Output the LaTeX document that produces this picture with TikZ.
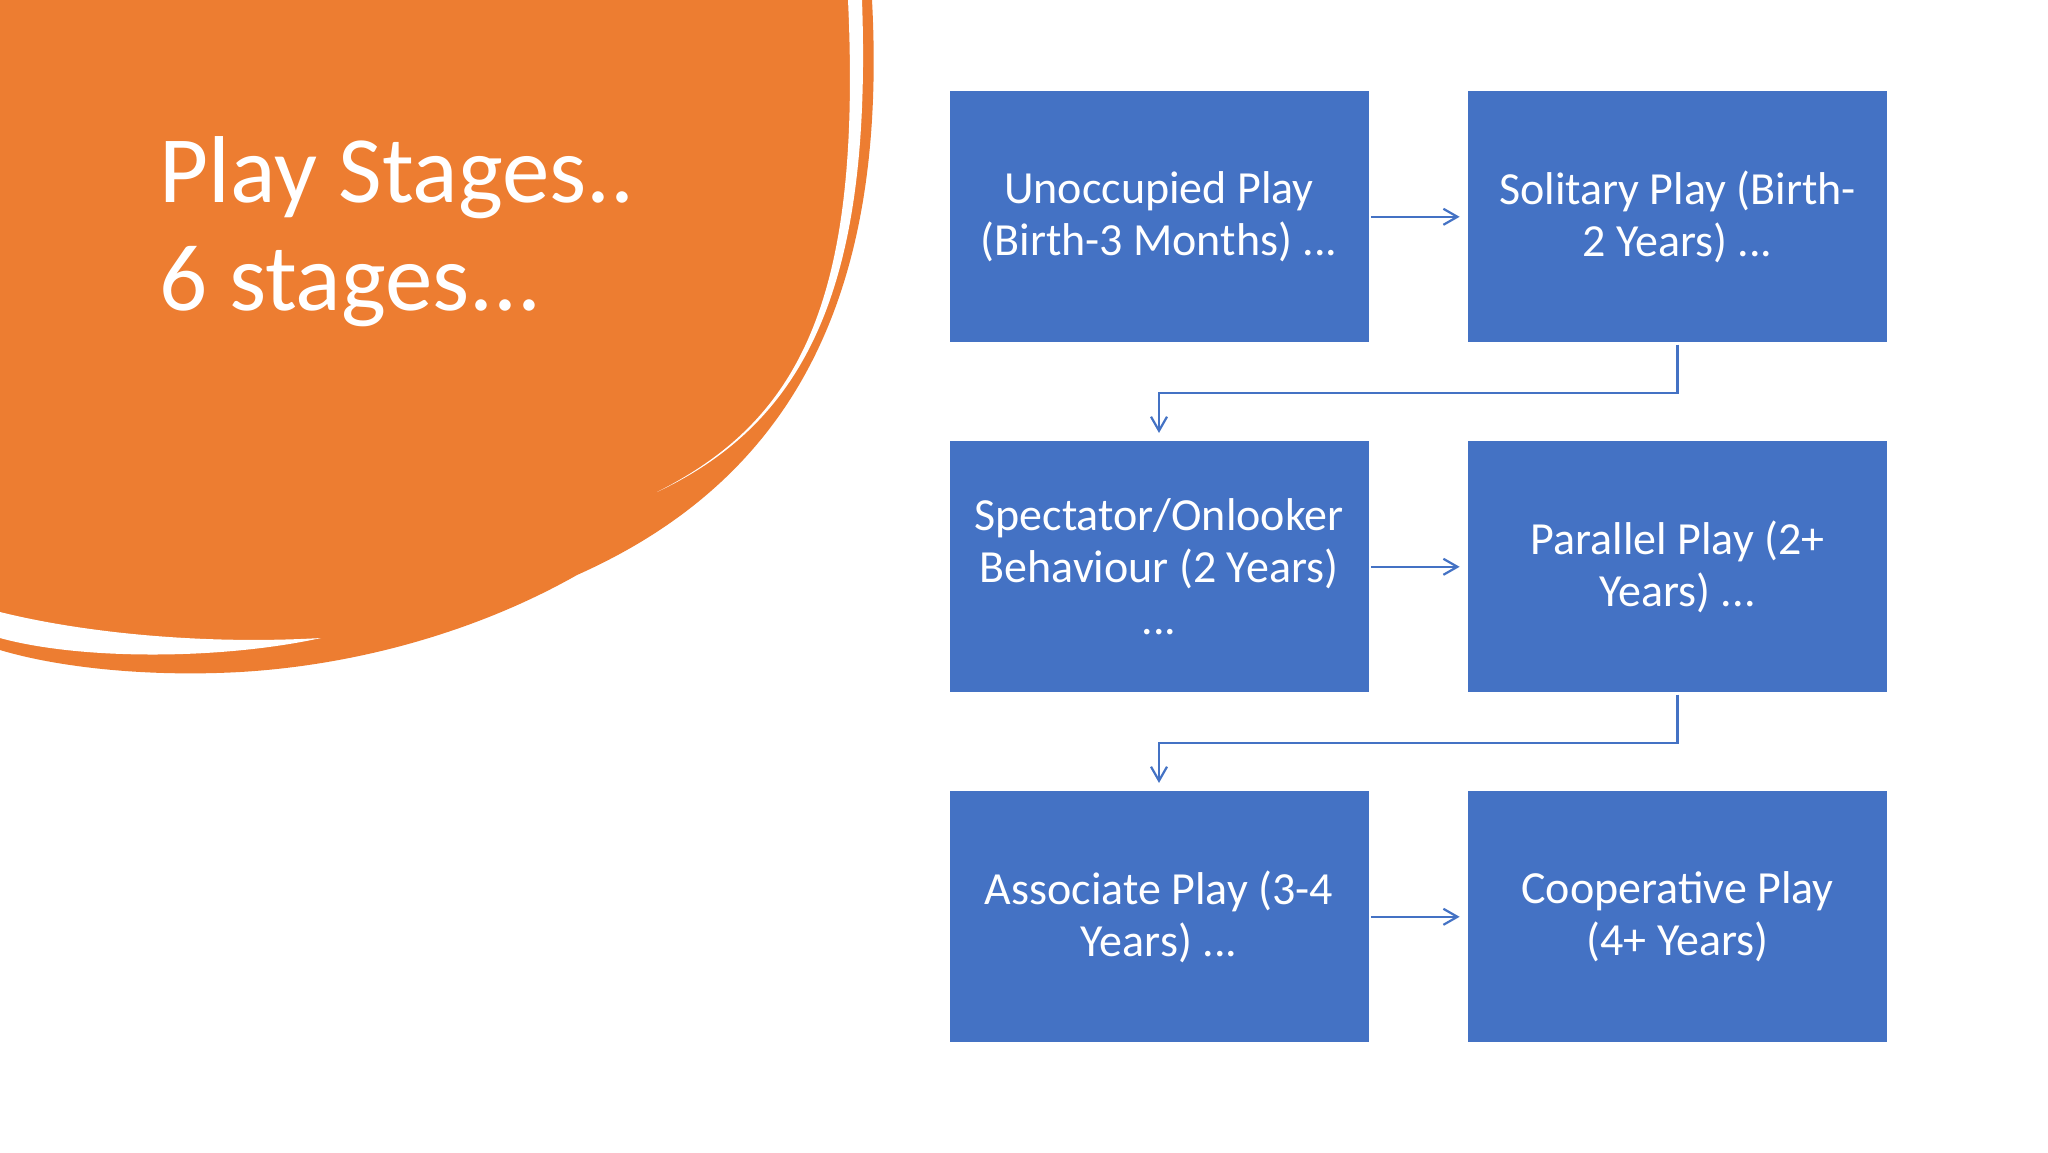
\documentclass[tikz,border=0pt]{standalone}
\usepackage{fontspec}
\setmainfont{Carlito}
\usetikzlibrary{arrows.meta}
\definecolor{accorange}{HTML}{ED7D31}
\definecolor{accblue}{HTML}{4472C4}
\tikzset{
  stagebox/.style={fill=accblue, draw=none, text=white, minimum width=209.5pt, minimum height=125.5pt,
    inner sep=0pt, align=center, font=\fontsize{23}{26}\selectfont},
  conn/.style={draw=accblue, line width=1.1pt, -{Straight Barb[length=7pt,width=8pt,line width=1.1pt]},
    shorten <=1pt, shorten >=4pt},
  titletext/.style={text=white, anchor=base west, inner sep=0pt, font=\fontsize{47.5}{53.5}\selectfont}
}
\begin{document}
\begin{tikzpicture}[x=0.5pt,y=-0.5pt]
\useasboundingbox (0,0) rectangle (2048,1152);
\fill[white] (0,0) rectangle (2048,1152);
% orange blob with outer stroke
\fill[accorange] (0,0) -- (872,0)
  .. controls (888,300) and (790,480) .. (577,575)
  .. controls (480,630) and (360,665) .. (240,672)
  .. controls (150,677) and (60,668) .. (0,650) -- cycle;
% right white sliver
\fill[white] (848,0) -- (862,0)
  .. controls (872,280) and (810,420) .. (657,492)
  .. controls (800,420) and (862,300) .. (848,0) -- cycle;
% bottom white sliver
\fill[white] (0,612)
  .. controls (80,632) and (200,645) .. (321,638)
  .. controls (220,660) and (80,660) .. (0,638) -- cycle;
% title
\node[titletext] (t1) at (159,202) {Play Stages..};
\node[titletext] (t2) at (159,310) {6 stages...};
% boxes
\node[stagebox] (b1) at (1159,216.8) {Unoccupied Play\\(Birth-3 Months) ...};
\node[stagebox] (b2) at (1677.5,216.8) {Solitary Play (Birth-\\2 Years) ...};
\node[stagebox] (b3) at (1159,566.8) {Spectator/Onlooker\\Behaviour (2 Years)\\...};
\node[stagebox] (b4) at (1677.5,566.8) {Parallel Play (2+\\Years) ...};
\node[stagebox] (b5) at (1159,916.8) {Associate Play (3-4\\Years) ...};
\node[stagebox] (b6) at (1677.5,916.8) {Cooperative Play\\(4+ Years)};
% connectors
\draw[conn] (b1.east) -- (b2.west);
\draw[conn] (b2.south) -- ++(0,50) -| (b3.north);
\draw[conn] (b3.east) -- (b4.west);
\draw[conn] (b4.south) -- ++(0,50) -| (b5.north);
\draw[conn] (b5.east) -- (b6.west);
\end{tikzpicture}
\end{document}
